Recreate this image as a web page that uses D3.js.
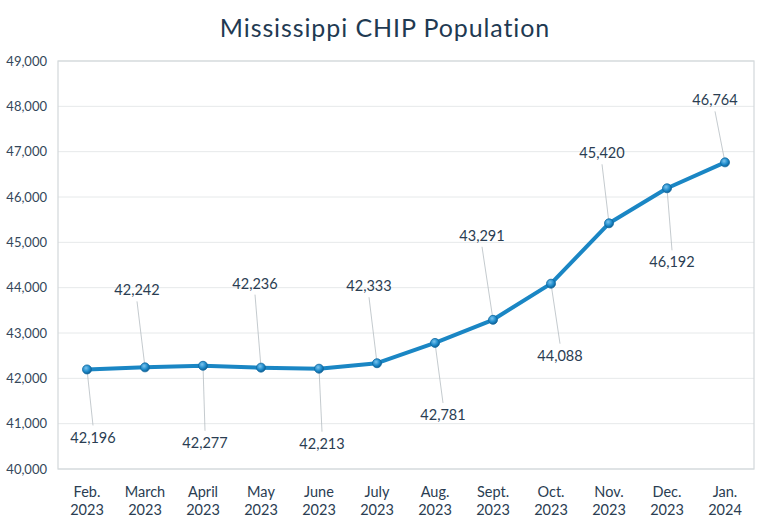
<!DOCTYPE html>
<html>
<head>
<meta charset="utf-8">
<script src="https://cdn.jsdelivr.net/npm/d3@7"></script>
<style>
  body { margin: 0; background: #fff; }
  svg { font-family: Lato, "Open Sans", sans-serif; }
</style>
</head>
<body>
<div id="chart"></div>
<script>
const months = ['Feb.', 'March', 'April', 'May', 'June', 'July', 'Aug.', 'Sept.', 'Oct.', 'Nov.', 'Dec.', 'Jan.']
const years = ['2023', '2023', '2023', '2023', '2023', '2023', '2023', '2023', '2023', '2023', '2023', '2024']
const population = [42196, 42242, 42277, 42236, 42213, 42333, 42781, 43291, 44088, 45420, 46192, 46764]
const yTicks = [40000, 41000, 42000, 43000, 44000, 45000, 46000, 47000, 48000, 49000]

// where each data label sits relative to its point (px)
const labelOffsets = [[6, 68], [-8, -77], [2, 77], [-6, -84], [3, 75], [-8, -77], [8, 72], [-11, -84], [9, 72], [-7, -70], [5, 74], [-10, -62]]

const width = 770, height = 526
const margin = { top: 61, right: 16, bottom: 57, left: 58 }

const svg = d3.select('#chart')
    .append('svg')
    .attr('width', width)
    .attr('height', height)

const x = d3.scaleBand()
    .domain(months.map((m, i) => i))
    .range([margin.left, width - margin.right])
    .padding(0)

const y = d3.scaleLinear()
    .domain([40000, 49000])
    .range([height - margin.bottom, margin.top])

const cx = i => x(i) + x.bandwidth() / 2

svg.append('text')
    .attr('x', width / 2)
    .attr('y', 37)
    .attr('text-anchor', 'middle')
    .attr('font-size', 25)
    .attr('letter-spacing', 0.9)
    .attr('fill', '#1f3a52')
    .text('Mississippi CHIP Population')

// gridlines
svg.append('g')
    .selectAll('line')
    .data(yTicks)
    .join('line')
    .attr('x1', margin.left)
    .attr('x2', width - margin.right)
    .attr('y1', d => y(d))
    .attr('y2', d => y(d))
    .attr('stroke', '#e6e9ea')
    .attr('stroke-width', 1)

// plot border
svg.append('rect')
    .attr('x', margin.left)
    .attr('y', margin.top)
    .attr('width', width - margin.left - margin.right)
    .attr('height', height - margin.top - margin.bottom)
    .attr('fill', 'none')
    .attr('stroke', '#d3d8da')
    .attr('stroke-width', 1.2)

// y axis labels
const yAxis = svg.append('g')
    .attr('transform', `translate(${margin.left - 11},0)`)
    .call(d3.axisLeft(y).tickValues(yTicks).tickFormat(d3.format(',')).tickSize(0).tickPadding(0))
yAxis.select('.domain').remove()
yAxis.selectAll('text')
    .attr('font-size', 13)
    .attr('fill', '#34475a')
    .attr('font-family', 'Lato, sans-serif')

// x axis labels, two lines
const xLabels = svg.append('g')
    .selectAll('text')
    .data(months)
    .join('text')
    .attr('x', (d, i) => cx(i))
    .attr('y', 497)
    .attr('text-anchor', 'middle')
    .attr('font-size', 14.5)
    .attr('fill', '#2a3d52')
xLabels.append('tspan').attr('x', (d, i) => cx(i)).text(d => d)
xLabels.append('tspan').attr('x', (d, i) => cx(i)).attr('dy', 18).text((d, i) => years[i])

// leader lines
svg.append('g')
    .selectAll('line')
    .data(population)
    .join('line')
    .attr('x1', (d, i) => cx(i))
    .attr('y1', d => y(d))
    .attr('x2', (d, i) => cx(i) + labelOffsets[i][0])
    .attr('y2', (d, i) => y(d) + labelOffsets[i][1] + (labelOffsets[i][1] < 0 ? 11 : -12))
    .attr('stroke', '#b5bcc2')
    .attr('stroke-width', 0.8)

// line
const line = d3.line()
    .x((d, i) => cx(i))
    .y(d => y(d))

svg.append('path')
    .datum(population)
    .attr('d', line)
    .attr('fill', 'none')
    .attr('stroke', '#1a86c4')
    .attr('stroke-width', 4)
    .attr('stroke-linejoin', 'round')

const grad = svg.append('defs').append('radialGradient')
    .attr('id', 'ball')
    .attr('cx', '40%').attr('cy', '35%').attr('r', '65%')
grad.append('stop').attr('offset', '0%').attr('stop-color', '#7cc4ee')
grad.append('stop').attr('offset', '60%').attr('stop-color', '#1e8bcb')
grad.append('stop').attr('offset', '100%').attr('stop-color', '#0f5f93')

svg.append('g')
    .selectAll('circle')
    .data(population)
    .join('circle')
    .attr('cx', (d, i) => cx(i))
    .attr('cy', d => y(d))
    .attr('r', 4.5)
    .attr('fill', 'url(#ball)')
    .attr('stroke', '#10689f')
    .attr('stroke-width', 0.8)

// data labels
svg.append('g')
    .selectAll('text')
    .data(population)
    .join('text')
    .attr('x', (d, i) => cx(i) + labelOffsets[i][0])
    .attr('y', (d, i) => y(d) + labelOffsets[i][1])
    .attr('dy', '0.35em')
    .attr('text-anchor', 'middle')
    .attr('font-size', 14.5)
    .attr('fill', '#2a3d52')
    .text(d => d3.format(',')(d))
</script>
</body>
</html>
